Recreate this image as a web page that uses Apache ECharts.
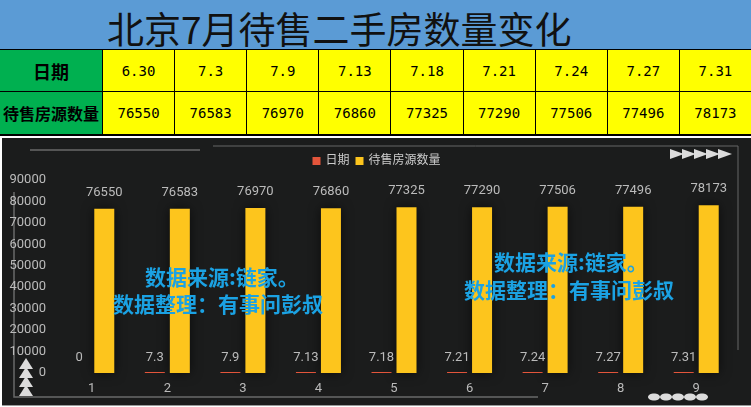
<!DOCTYPE html>
<html>
<head>
<meta charset="utf-8">
<script src="https://cdn.jsdelivr.net/npm/echarts@6/dist/echarts.min.js"></script>
<style>
  html, body { margin:0; padding:0; background:#fff; width:751px; height:407px; overflow:hidden; }
  #title { position:absolute; left:0; top:0; width:751px; height:49px; background:#5b9bd5; }
  #title span { position:absolute; left:107px; top:28px; transform:translateY(-50%); font-family:"Noto Sans CJK SC"; font-size:37px; color:#111; white-space:nowrap; line-height:1; }
  #tbl { position:absolute; left:0; top:49px; width:751px; height:87px; box-sizing:border-box; background:#000;
         display:grid; grid-template-columns:102px repeat(9, 1fr); grid-template-rows:41px 42px; gap:1px; padding:1px 0 2px 0; }
  #tbl div { display:flex; align-items:center; justify-content:center; white-space:nowrap; }
  .hd { background:#00b050; font-family:"Noto Sans CJK SC"; font-weight:bold; color:#000; }
  .cell { background:#ffff00; font-family:"DejaVu Sans Mono"; font-size:14px; color:#000; }
  #chart { position:absolute; left:2px; top:138px; width:749px; height:267px; background:#1b1c1c; border-bottom:1px solid #9a9a9a; }
</style>
</head>
<body>
<div id="title"><span>北京7月待售二手房数量变化</span></div>
<div id="tbl"></div>
<div id="chart"></div>
<script>
// ---- data ----
const rowHeaders = ['日期', '待售房源数量'];
const tableDates = ['6.30', '7.3', '7.9', '7.13', '7.18', '7.21', '7.24', '7.27', '7.31'];
const stockValues = [76550, 76583, 76970, 76860, 77325, 77290, 77506, 77496, 78173];
const categories = ['1', '2', '3', '4', '5', '6', '7', '8', '9'];
const dateValues = [0, 7.3, 7.9, 7.13, 7.18, 7.21, 7.24, 7.27, 7.31];
const seriesNames = ['日期', '待售房源数量'];
const watermarkLines = ['数据来源:链家。', '数据整理：有事问彭叔'];
const yMax = 90000, yInterval = 10000;

// ---- table ----
const tbl = document.getElementById('tbl');
function addCell(text, cls, fs) {
  const d = document.createElement('div');
  d.className = cls; d.textContent = text;
  if (fs) d.style.fontSize = fs + 'px';
  tbl.appendChild(d);
}
addCell(rowHeaders[0], 'hd', 18);
tableDates.forEach(t => addCell(t, 'cell'));
addCell(rowHeaders[1], 'hd', 16);
stockValues.forEach(v => addCell(String(v), 'cell'));

// ---- chart ----
const chart = echarts.init(document.getElementById('chart'), null, { renderer: 'canvas' });
const FONT = 'Roboto, "Noto Sans CJK SC", sans-serif';
const deco = '#dcdcdc';
function tri(x, y, w, h, dir) {
  const pts = dir === 'right' ? [[x, y], [x + w, y + h / 2], [x, y + h]] : [[x, y + h], [x + w / 2, y], [x + w, y + h]];
  return { type: 'polygon', shape: { points: pts }, style: { fill: deco }, silent: true };
}
const graphics = [
  { type: 'polyline', shape: { points: [[28, 12], [198, 12]] }, style: { stroke: '#555', lineWidth: 2 }, silent: true },
  { type: 'polyline', shape: { points: [[211, 8], [736, 8], [736, 212]] }, style: { stroke: '#666', lineWidth: 1 }, silent: true },
  { type: 'polyline', shape: { points: [[12, 54], [12, 259], [536, 259]] }, style: { stroke: '#6a6a6a', lineWidth: 1.5 }, silent: true }
];
for (let i = 0; i < 5; i++) graphics.push(tri(668 + i * 12, 11, 14, 10, 'right'));
for (let i = 0; i < 4; i++) graphics.push(tri(17, 220 + i * 9, 14, 11, 'up'));
for (let i = 0; i < 5; i++) graphics.push({ type: 'ellipse', shape: { cx: 652 + i * 12, cy: 259, rx: 6, ry: 3.5 }, style: { fill: deco }, silent: true });
const wm = [[143, 139, 0], [111, 166, 1], [492, 124, 0], [462, 152, 1]];
wm.forEach(([x, y, i]) => graphics.push({
  type: 'text', x: x, y: y, silent: true, z: 100,
  style: { text: watermarkLines[i], fill: '#1ba2e3', font: 'bold 21px "Noto Sans CJK SC"', textAlign: 'left', textVerticalAlign: 'middle',
           shadowColor: 'rgba(0,40,90,0.9)', shadowOffsetX: 1, shadowOffsetY: 1, shadowBlur: 2 }
}));

chart.setOption({
  animation: false,
  backgroundColor: '#1b1c1c',
  textStyle: { fontFamily: FONT },
  legend: {
    data: seriesNames, top: 12, left: 'center', icon: 'rect', itemWidth: 8, itemHeight: 8, itemGap: 6,
    textStyle: { color: '#ccc', fontSize: 12, fontFamily: FONT }
  },
  grid: { left: 52, right: 17, top: 42, bottom: 32, containLabel: false },
  xAxis: {
    type: 'category', data: categories,
    axisLine: { show: false }, axisTick: { show: false },
    axisLabel: { color: '#bbb', fontSize: 13, margin: 9, fontFamily: FONT }
  },
  yAxis: {
    type: 'value', min: 0, max: yMax, interval: yInterval,
    axisLine: { show: false }, axisTick: { show: false }, splitLine: { show: false },
    axisLabel: { color: '#bbb', fontSize: 13, margin: 8, fontFamily: FONT, formatter: v => String(v) }
  },
  graphic: graphics,
  series: [
    {
      name: seriesNames[0], type: 'bar', barWidth: 20, barGap: '25%', barMinHeight: 1,
      data: dateValues.map(v => v === 0 ? { value: v, itemStyle: { color: 'transparent' } } : v),
      itemStyle: { color: '#e4553b' },
      label: { show: true, position: 'top', distance: 8, color: '#bbb', fontSize: 13, fontFamily: FONT }
    },
    {
      name: seriesNames[1], type: 'bar', barWidth: 20,
      data: stockValues,
      itemStyle: { color: '#fdc51d', shadowBlur: 12, shadowColor: 'rgba(0,0,0,0.6)' },
      label: { show: true, position: 'top', distance: 10, color: '#bbb', fontSize: 13, fontFamily: FONT }
    }
  ]
});
</script>
</body>
</html>
